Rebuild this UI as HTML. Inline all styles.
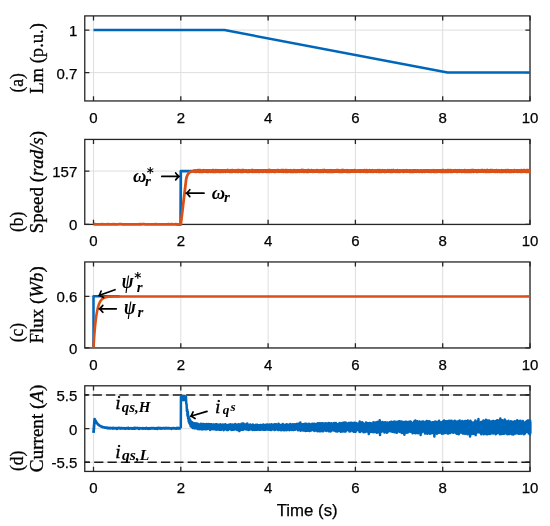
<!DOCTYPE html><html><head><meta charset="utf-8"><style>html,body{margin:0;padding:0;background:#fff;width:550px;height:526px;overflow:hidden}svg{display:block}</style></head><body>
<svg width="550" height="526" viewBox="0 0 550 526">
<rect width="550" height="526" fill="#fff"/>
<defs><clipPath id="cr"><rect x="0" y="0" width="531.6" height="526"/></clipPath></defs>
<path d="M93.5 15.9V100.95M180.8 15.9V100.95M268.1 15.9V100.95M355.4 15.9V100.95M442.7 15.9V100.95M530 15.9V100.95M84.77 72.6H530M84.77 30.08H530M93.5 139.43V224.43M180.8 139.43V224.43M268.1 139.43V224.43M355.4 139.43V224.43M442.7 139.43V224.43M530 139.43V224.43M84.77 224.43H530M84.77 171.05H530M93.5 261.96V347.96M180.8 261.96V347.96M268.1 261.96V347.96M355.4 261.96V347.96M442.7 261.96V347.96M530 261.96V347.96M84.77 347.96H530M84.77 296.36H530M93.5 385.8V471.43M180.8 385.8V471.43M268.1 385.8V471.43M355.4 385.8V471.43M442.7 385.8V471.43M530 385.8V471.43M84.77 462.26H530M84.77 428.62H530M84.77 394.97H530" stroke="#dedede" stroke-width="1" fill="none"/>
<rect x="84.77" y="15.9" width="445.23" height="85.05" fill="none" stroke="#262626" stroke-width="1.3"/>
<path d="M93.5 100.95v-4.6M93.5 15.9v4.6M180.8 100.95v-4.6M180.8 15.9v4.6M268.1 100.95v-4.6M268.1 15.9v4.6M355.4 100.95v-4.6M355.4 15.9v4.6M442.7 100.95v-4.6M442.7 15.9v4.6M530 100.95v-4.6M530 15.9v4.6M84.77 72.6h4.6M530 72.6h-4.6M84.77 30.08h4.6M530 30.08h-4.6" stroke="#262626" stroke-width="1.3" fill="none"/>
<rect x="84.77" y="139.43" width="445.23" height="85" fill="none" stroke="#262626" stroke-width="1.3"/>
<path d="M93.5 224.43v-4.6M93.5 139.43v4.6M180.8 224.43v-4.6M180.8 139.43v4.6M268.1 224.43v-4.6M268.1 139.43v4.6M355.4 224.43v-4.6M355.4 139.43v4.6M442.7 224.43v-4.6M442.7 139.43v4.6M530 224.43v-4.6M530 139.43v4.6M84.77 224.43h4.6M530 224.43h-4.6M84.77 171.05h4.6M530 171.05h-4.6" stroke="#262626" stroke-width="1.3" fill="none"/>
<rect x="84.77" y="261.96" width="445.23" height="86" fill="none" stroke="#262626" stroke-width="1.3"/>
<path d="M93.5 347.96v-4.6M93.5 261.96v4.6M180.8 347.96v-4.6M180.8 261.96v4.6M268.1 347.96v-4.6M268.1 261.96v4.6M355.4 347.96v-4.6M355.4 261.96v4.6M442.7 347.96v-4.6M442.7 261.96v4.6M530 347.96v-4.6M530 261.96v4.6M84.77 347.96h4.6M530 347.96h-4.6M84.77 296.36h4.6M530 296.36h-4.6" stroke="#262626" stroke-width="1.3" fill="none"/>
<rect x="84.77" y="385.8" width="445.23" height="85.63" fill="none" stroke="#262626" stroke-width="1.3"/>
<path d="M93.5 471.43v-4.6M93.5 385.8v4.6M180.8 471.43v-4.6M180.8 385.8v4.6M268.1 471.43v-4.6M268.1 385.8v4.6M355.4 471.43v-4.6M355.4 385.8v4.6M442.7 471.43v-4.6M442.7 385.8v4.6M530 471.43v-4.6M530 385.8v4.6M84.77 462.26h4.6M530 462.26h-4.6M84.77 428.62h4.6M530 428.62h-4.6M84.77 394.97h4.6M530 394.97h-4.6" stroke="#262626" stroke-width="1.3" fill="none"/>
<path d="M93.5 30.08L224.45 30.08L447.5 72.6L530 72.6" fill="none" stroke="#0066BA" stroke-width="2.5" stroke-linejoin="round" stroke-linecap="butt" />
<path d="M176.44 224.43L180.58 224.43L180.8 171.05L206.99 171.05" fill="none" stroke="#0066BA" stroke-width="2.7" stroke-linejoin="round" stroke-linecap="butt" /><path d="M93.5 224.43L94.94 224.25L96.39 224.43L97.83 224.41L99.27 224.43L100.71 224.43L102.16 224.23L103.6 224.43L105.04 224.43L106.48 224.43L107.93 224.13L109.37 224.43L110.81 224.43L112.25 224.43L113.7 224.16L115.14 224.29L116.58 224.43L118.03 224.3L119.47 224.22L120.91 224.15L122.35 224.42L123.8 224.43L125.24 224.43L126.68 224.33L128.12 224.43L129.57 224.43L131.01 224.41L132.45 224.43L133.89 224.43L135.34 224.4L136.78 224.43L138.22 224.29L139.67 224.2L141.11 224.43L142.55 224.16L143.99 224.18L145.44 224.4L146.88 224.43L148.32 224.43L149.76 224.43L151.21 224.43L152.65 224.43L154.09 224.43L155.53 224.2L156.98 224.43L158.42 224.43L159.86 224.43L161.31 224.43L162.75 224.43L164.19 224.43L165.63 224.43L167.08 224.43L168.52 224.2L169.96 224.32L171.4 224.12L172.85 224.43L174.29 224.43L175.73 224.24L177.17 224.28L178.62 224.43L178.62 224.43L178.75 224.43L178.87 224.43L179 224.43L179.13 224.43L179.26 224.43L179.39 224.43L179.52 224.43L179.64 224.43L179.77 224.43L179.9 224.43L180.03 224.43L180.16 224.43L180.29 224.43L180.41 224.43L180.54 224.43L180.67 224.31L180.8 223.95L180.93 223.23L181.06 222.27L181.19 221.19L181.31 220.11L181.44 219.03L181.57 217.95L181.7 216.87L181.83 215.79L181.96 214.71L182.08 213.63L182.21 212.55L182.34 211.47L182.47 210.39L182.6 209.31L182.73 208.23L182.85 207.15L182.98 206.07L183.11 204.99L183.24 203.91L183.37 202.83L183.5 201.75L183.62 200.67L183.75 199.59L183.88 198.51L184.01 197.43L184.14 196.35L184.27 195.27L184.39 194.19L184.52 193.11L184.65 192.03L184.78 190.95L184.91 189.87L185.04 188.79L185.17 187.71L185.29 186.63L185.42 185.55L185.55 184.47L185.68 183.39L185.81 182.31L185.94 181.23L186.06 180.18L186.19 179.24L186.32 178.47L186.45 177.88L186.58 177.42L186.71 177.02L186.83 176.64L186.96 176.29L187.09 175.95L187.22 175.64L187.35 175.35L187.48 175.08L187.6 174.83L187.73 174.59L187.86 174.36L187.99 174.15L188.12 173.96L188.25 173.77L188.37 173.6L188.5 173.44L188.63 173.29L188.76 173.15L188.89 173.01L189.02 172.89L189.14 172.77L189.27 172.66L189.4 172.56L189.53 172.47L189.66 172.38L189.79 172.29L189.92 172.21L190.04 172.14L190.17 172.07L190.3 172.01L190.43 171.95L190.56 171.89L190.69 171.84L190.81 171.79L190.94 171.74L191.07 171.7L191.2 171.66L191.33 171.62L191.46 171.58L191.58 171.55L191.71 171.52L191.84 171.49L191.97 171.46L192.1 171.43L192.23 171.41L192.35 171.39L192.48 171.37L192.61 171.35L192.74 171.33L192.87 171.31L193 171.29L193.12 171.28L193.25 171.26L193.38 171.25L193.51 171.24L193.64 171.22L193.77 171.21L193.89 171.2L193.89 170.53L194.23 171.65L194.56 170.8L194.9 171.54L195.23 170.49L195.56 171.8L195.9 170.59L196.23 171.79L196.56 170.56L196.9 171.49L197.23 170.57L197.56 171.63L197.9 170.23L198.23 171.47L198.56 170.68L198.9 171.71L199.23 170.2L199.56 171.89L199.9 170.34L200.23 171.43L200.56 170.28L200.9 171.77L201.23 170.64L201.56 171.65L201.9 170.69L202.23 171.83L202.56 170.32L202.9 171.83L203.23 170.3L203.56 171.54L203.9 170.28L204.23 171.53L204.56 170.64L204.9 171.6L205.23 170.44L205.56 171.55L205.9 170.38L206.23 171.72L206.56 170.58L206.9 171.73L207.23 170.52L207.56 171.79L207.9 170.55L208.23 171.82L208.56 170.48L208.9 171.69L209.23 170.34L209.56 171.67L209.9 170.57L210.23 171.92L210.56 170.66L210.9 171.57L211.23 170.41L211.56 171.41L211.9 170.63L212.23 171.82L212.56 170.28L212.9 171.74L213.23 170.22L213.56 171.8L213.9 170.55L214.23 171.74L214.56 170.52L214.9 171.8L215.23 170.5L215.56 171.47L215.9 170.23L216.23 171.77L216.56 170.3L216.9 171.69L217.23 170.28L217.56 171.63L217.9 170.4L218.23 171.42L218.56 170.41L218.9 171.83L219.23 170.33L219.56 171.83L219.9 170.44L220.23 171.87L220.56 170.65L220.9 171.87L221.23 170.51L221.56 171.44L221.9 170.37L222.23 171.64L222.56 170.48L222.9 171.85L223.23 170.64L223.56 171.73L223.9 170.48L224.23 171.68L224.56 170.44L224.9 171.46L225.23 170.43L225.56 171.86L225.9 170.62L226.23 171.4L226.56 170.67L226.9 171.64L227.23 170.18L227.56 171.41L227.9 170.17L228.23 171.68L228.56 170.64L228.9 171.62L229.23 170.6L229.56 171.78L229.9 170.42L230.23 171.55L230.56 170.57L230.9 171.86L231.23 170.29L231.56 171.63L231.9 170.49L232.23 171.79L232.56 170.18L232.9 171.43L233.23 170.62L233.56 171.59L233.9 170.43L234.23 171.43L234.56 170.68L234.9 171.51L235.23 170.5L235.56 171.79L235.9 170.38L236.23 171.41L236.56 170.69L236.9 171.64L237.23 170.23L237.56 171.89L237.9 170.51L238.23 171.87L238.56 170.2L238.9 171.61L239.23 170.3L239.56 171.59L239.9 170.63L240.23 171.7L240.56 170.66L240.9 171.75L241.23 170.27L241.56 171.89L241.9 170.47L242.23 171.45L242.56 170.22L242.9 171.86L243.23 170.18L243.56 171.71L243.9 170.34L244.23 171.59L244.56 170.61L244.9 171.55L245.23 170.32L245.56 171.57L245.9 170.33L246.23 171.66L246.56 170.47L246.9 171.92L247.23 170.62L247.56 171.66L247.9 170.62L248.23 171.9L248.56 170.44L248.9 171.57L249.23 170.62L249.56 171.71L249.9 170.49L250.23 171.46L250.56 170.69L250.9 171.6L251.23 170.39L251.56 171.67L251.9 170.22L252.23 171.89L252.56 170.2L252.9 171.83L253.23 170.45L253.56 171.67L253.9 170.49L254.23 171.61L254.56 170.69L254.9 171.82L255.23 170.58L255.56 171.41L255.9 170.46L256.23 171.78L256.56 170.47L256.9 171.59L257.23 170.35L257.56 171.48L257.9 170.7L258.23 171.71L258.56 170.42L258.9 171.86L259.23 170.48L259.56 171.82L259.9 170.7L260.23 171.4L260.56 170.38L260.9 171.51L261.23 170.67L261.56 171.46L261.9 170.51L262.23 171.57L262.56 170.4L262.9 171.87L263.23 170.51L263.56 171.49L263.9 170.4L264.23 171.39L264.56 170.5L264.9 171.56L265.23 170.5L265.56 171.42L265.9 170.41L266.23 171.73L266.56 170.3L266.9 171.91L267.23 170.52L267.56 171.75L267.9 170.47L268.23 171.51L268.56 170.23L268.9 171.8L269.23 170.2L269.56 171.84L269.9 170.21L270.23 171.46L270.56 170.7L270.9 171.5L271.23 170.49L271.56 171.76L271.9 170.47L272.23 171.67L272.56 170.3L272.9 171.43L273.23 170.34L273.56 171.42L273.9 170.57L274.23 171.78L274.56 170.34L274.9 171.61L275.23 170.55L275.56 171.84L275.9 170.56L276.23 171.41L276.56 170.58L276.9 171.4L277.23 170.27L277.56 171.46L277.9 170.18L278.23 171.51L278.56 170.54L278.9 171.71L279.23 170.54L279.56 171.6L279.9 170.65L280.23 171.6L280.56 170.7L280.9 171.51L281.23 170.22L281.56 171.54L281.9 170.56L282.23 171.76L282.56 170.23L282.9 171.55L283.23 170.51L283.56 171.78L283.9 170.28L284.23 171.72L284.56 170.61L284.9 171.49L285.23 170.3L285.56 171.77L285.9 170.22L286.23 171.81L286.56 170.48L286.9 171.46L287.23 170.23L287.56 171.77L287.9 170.4L288.23 171.76L288.56 170.5L288.9 171.58L289.23 170.4L289.56 171.65L289.9 170.32L290.23 171.9L290.56 170.25L290.9 171.6L291.23 170.51L291.56 171.89L291.9 170.5L292.23 171.83L292.56 170.66L292.9 171.64L293.23 170.43L293.56 171.83L293.9 170.23L294.23 171.47L294.56 170.37L294.89 171.73L295.23 170.63L295.56 171.84L295.89 170.41L296.23 171.91L296.56 170.61L296.89 171.68L297.23 170.53L297.56 171.74L297.89 170.38L298.23 171.67L298.56 170.53L298.89 171.66L299.23 170.51L299.56 171.87L299.89 170.46L300.23 171.65L300.56 170.57L300.89 171.53L301.23 170.19L301.56 171.56L301.89 170.24L302.23 171.71L302.56 170.18L302.89 171.48L303.23 170.2L303.56 171.81L303.89 170.4L304.23 171.78L304.56 170.32L304.89 171.63L305.23 170.36L305.56 171.51L305.89 170.7L306.23 171.76L306.56 170.45L306.89 171.88L307.23 170.57L307.56 171.83L307.89 170.17L308.23 171.88L308.56 170.19L308.89 171.48L309.23 170.62L309.56 171.51L309.89 170.51L310.23 171.45L310.56 170.63L310.89 171.4L311.23 170.2L311.56 171.59L311.89 170.37L312.23 171.64L312.56 170.31L312.89 171.83L313.23 170.5L313.56 171.68L313.89 170.66L314.23 171.55L314.56 170.59L314.89 171.56L315.23 170.53L315.56 171.7L315.89 170.53L316.23 171.57L316.56 170.26L316.89 171.4L317.23 170.71L317.56 171.42L317.89 170.24L318.23 171.73L318.56 170.31L318.89 171.91L319.23 170.59L319.56 171.89L319.89 170.58L320.23 171.67L320.56 170.34L320.89 171.82L321.23 170.58L321.56 171.65L321.89 170.69L322.23 171.55L322.56 170.18L322.89 171.88L323.23 170.39L323.56 171.82L323.89 170.22L324.23 171.57L324.56 170.18L324.89 171.63L325.23 170.62L325.56 171.68L325.89 170.39L326.23 171.77L326.56 170.35L326.89 171.41L327.23 170.36L327.56 171.89L327.89 170.35L328.23 171.92L328.56 170.43L328.89 171.83L329.23 170.63L329.56 171.88L329.89 170.47L330.23 171.87L330.56 170.54L330.89 171.73L331.23 170.25L331.56 171.78L331.89 170.37L332.23 171.92L332.56 170.66L332.89 171.45L333.23 170.41L333.56 171.91L333.89 170.34L334.23 171.56L334.56 170.65L334.89 171.63L335.23 170.45L335.56 171.64L335.89 170.37L336.23 171.54L336.56 170.23L336.89 171.55L337.23 170.65L337.56 171.58L337.89 170.2L338.23 171.48L338.56 170.56L338.89 171.89L339.23 170.52L339.56 171.85L339.89 170.69L340.23 171.87L340.56 170.58L340.89 171.49L341.23 170.31L341.56 171.93L341.89 170.19L342.23 171.8L342.56 170.21L342.89 171.93L343.23 170.41L343.56 171.47L343.89 170.25L344.23 171.61L344.56 170.54L344.89 171.66L345.23 170.69L345.56 171.4L345.89 170.57L346.23 171.71L346.56 170.3L346.89 171.91L347.23 170.26L347.56 171.9L347.89 170.36L348.23 171.79L348.56 170.39L348.89 171.43L349.23 170.68L349.56 171.8L349.89 170.6L350.23 171.82L350.56 170.46L350.89 171.39L351.23 170.4L351.56 171.63L351.89 170.67L352.23 171.53L352.56 170.54L352.89 171.58L353.23 170.33L353.56 171.48L353.89 170.47L354.23 171.72L354.56 170.2L354.89 171.45L355.23 170.67L355.56 171.49L355.89 170.59L356.23 171.48L356.56 170.67L356.89 171.5L357.23 170.59L357.56 171.65L357.89 170.36L358.23 171.59L358.56 170.62L358.89 171.44L359.23 170.57L359.56 171.48L359.89 170.45L360.23 171.86L360.56 170.32L360.89 171.5L361.23 170.69L361.56 171.43L361.89 170.47L362.23 171.59L362.56 170.34L362.89 171.44L363.23 170.57L363.56 171.76L363.89 170.4L364.23 171.67L364.56 170.22L364.89 171.45L365.23 170.6L365.56 171.7L365.89 170.4L366.23 171.92L366.56 170.18L366.89 171.71L367.23 170.3L367.56 171.77L367.89 170.64L368.23 171.72L368.56 170.54L368.89 171.59L369.23 170.62L369.56 171.39L369.89 170.25L370.23 171.78L370.56 170.3L370.89 171.55L371.23 170.48L371.56 171.49L371.89 170.38L372.23 171.85L372.56 170.29L372.89 171.9L373.23 170.57L373.56 171.77L373.89 170.64L374.23 171.68L374.56 170.65L374.89 171.68L375.23 170.42L375.56 171.58L375.89 170.52L376.23 171.78L376.56 170.45L376.89 171.61L377.23 170.65L377.56 171.54L377.89 170.25L378.23 171.92L378.56 170.51L378.89 171.86L379.23 170.23L379.56 171.51L379.89 170.56L380.23 171.77L380.56 170.54L380.89 171.91L381.23 170.51L381.56 171.79L381.89 170.33L382.23 171.51L382.56 170.24L382.89 171.57L383.23 170.65L383.56 171.42L383.89 170.46L384.23 171.73L384.56 170.56L384.89 171.85L385.23 170.56L385.56 171.85L385.89 170.69L386.23 171.53L386.56 170.62L386.89 171.63L387.23 170.52L387.56 171.6L387.89 170.25L388.23 171.71L388.56 170.38L388.89 171.6L389.23 170.27L389.56 171.66L389.89 170.3L390.23 171.89L390.56 170.38L390.89 171.63L391.23 170.57L391.56 171.89L391.89 170.29L392.23 171.82L392.56 170.59L392.89 171.63L393.23 170.23L393.56 171.52L393.89 170.27L394.23 171.68L394.56 170.59L394.89 171.59L395.23 170.67L395.56 171.76L395.89 170.31L396.23 171.41L396.56 170.55L396.89 171.81L397.23 170.6L397.56 171.68L397.89 170.27L398.23 171.7L398.56 170.64L398.89 171.88L399.23 170.3L399.56 171.7L399.89 170.53L400.23 171.71L400.56 170.5L400.89 171.45L401.23 170.64L401.56 171.41L401.89 170.62L402.23 171.52L402.56 170.36L402.89 171.71L403.23 170.39L403.56 171.84L403.89 170.66L404.23 171.6L404.56 170.67L404.89 171.62L405.23 170.67L405.56 171.43L405.89 170.65L406.23 171.6L406.56 170.29L406.89 171.54L407.23 170.31L407.56 171.52L407.89 170.55L408.23 171.65L408.56 170.67L408.89 171.63L409.23 170.39L409.56 171.84L409.89 170.68L410.23 171.83L410.56 170.4L410.89 171.7L411.23 170.68L411.56 171.87L411.89 170.56L412.23 171.69L412.56 170.42L412.89 171.89L413.23 170.38L413.56 171.93L413.89 170.58L414.23 171.75L414.56 170.4L414.89 171.67L415.23 170.37L415.56 171.69L415.89 170.53L416.23 171.74L416.56 170.66L416.89 171.65L417.23 170.46L417.56 171.51L417.89 170.4L418.23 171.75L418.56 170.64L418.89 171.55L419.23 170.68L419.56 171.71L419.89 170.67L420.23 171.51L420.56 170.47L420.89 171.64L421.23 170.69L421.56 171.91L421.89 170.58L422.23 171.72L422.56 170.59L422.89 171.71L423.23 170.52L423.56 171.56L423.89 170.45L424.23 171.71L424.56 170.38L424.89 171.76L425.23 170.56L425.56 171.44L425.89 170.57L426.23 171.57L426.56 170.38L426.89 171.62L427.23 170.54L427.56 171.44L427.89 170.39L428.23 171.45L428.56 170.43L428.89 171.76L429.23 170.37L429.56 171.48L429.89 170.52L430.23 171.9L430.56 170.66L430.89 171.76L431.23 170.47L431.56 171.72L431.89 170.5L432.23 171.46L432.56 170.4L432.89 171.39L433.23 170.24L433.56 171.82L433.89 170.51L434.23 171.68L434.56 170.42L434.89 171.92L435.23 170.69L435.56 171.55L435.89 170.49L436.23 171.82L436.56 170.31L436.89 171.62L437.23 170.7L437.56 171.74L437.89 170.49L438.23 171.45L438.56 170.37L438.89 171.63L439.23 170.54L439.56 171.54L439.89 170.43L440.23 171.52L440.56 170.5L440.89 171.9L441.23 170.45L441.56 171.53L441.89 170.43L442.23 171.89L442.56 170.24L442.89 171.76L443.23 170.22L443.56 171.8L443.89 170.34L444.23 171.62L444.56 170.63L444.89 171.79L445.23 170.36L445.56 171.92L445.89 170.54L446.23 171.87L446.56 170.59L446.89 171.9L447.23 170.17L447.56 171.42L447.89 170.53L448.23 171.93L448.56 170.18L448.89 171.75L449.23 170.64L449.56 171.39L449.89 170.57L450.23 171.9L450.56 170.27L450.89 171.62L451.23 170.3L451.56 171.88L451.89 170.55L452.23 171.87L452.56 170.56L452.89 171.57L453.23 170.69L453.56 171.48L453.89 170.41L454.23 171.4L454.56 170.41L454.89 171.48L455.23 170.3L455.56 171.46L455.89 170.6L456.23 171.54L456.56 170.39L456.89 171.83L457.23 170.3L457.56 171.79L457.89 170.34L458.23 171.69L458.56 170.52L458.89 171.49L459.23 170.24L459.56 171.61L459.89 170.36L460.23 171.43L460.56 170.51L460.89 171.44L461.23 170.52L461.56 171.79L461.89 170.52L462.23 171.76L462.56 170.64L462.89 171.6L463.23 170.49L463.56 171.67L463.89 170.59L464.23 171.77L464.56 170.23L464.89 171.83L465.23 170.69L465.56 171.66L465.89 170.52L466.23 171.7L466.56 170.66L466.89 171.79L467.23 170.48L467.56 171.9L467.89 170.7L468.23 171.62L468.56 170.45L468.89 171.84L469.23 170.3L469.56 171.49L469.89 170.54L470.23 171.79L470.56 170.48L470.89 171.53L471.23 170.2L471.56 171.85L471.89 170.52L472.23 171.69L472.56 170.2L472.89 171.51L473.23 170.22L473.56 171.87L473.89 170.31L474.23 171.76L474.56 170.34L474.89 171.69L475.23 170.39L475.56 171.5L475.89 170.4L476.23 171.76L476.56 170.45L476.89 171.76L477.23 170.46L477.56 171.83L477.89 170.32L478.23 171.44L478.56 170.29L478.89 171.54L479.23 170.67L479.56 171.46L479.89 170.53L480.23 171.68L480.56 170.53L480.89 171.5L481.23 170.29L481.56 171.59L481.89 170.23L482.23 171.52L482.56 170.33L482.89 171.58L483.23 170.25L483.56 171.74L483.89 170.34L484.23 171.44L484.56 170.3L484.89 171.58L485.23 170.31L485.56 171.85L485.89 170.64L486.23 171.4L486.56 170.3L486.89 171.92L487.23 170.22L487.56 171.63L487.89 170.26L488.23 171.4L488.56 170.68L488.89 171.71L489.23 170.42L489.56 171.84L489.89 170.58L490.23 171.64L490.56 170.17L490.89 171.55L491.23 170.49L491.56 171.72L491.89 170.17L492.23 171.49L492.56 170.33L492.89 171.62L493.23 170.49L493.56 171.53L493.89 170.46L494.23 171.7L494.56 170.5L494.89 171.67L495.23 170.36L495.56 171.85L495.89 170.4L496.23 171.6L496.56 170.19L496.89 171.48L497.23 170.69L497.56 171.88L497.89 170.57L498.23 171.47L498.56 170.5L498.89 171.58L499.23 170.52L499.56 171.85L499.89 170.55L500.23 171.46L500.56 170.59L500.89 171.91L501.23 170.48L501.56 171.59L501.89 170.29L502.23 171.9L502.56 170.43L502.89 171.83L503.23 170.57L503.56 171.58L503.89 170.4L504.23 171.52L504.56 170.56L504.89 171.49L505.23 170.57L505.56 171.85L505.89 170.28L506.23 171.45L506.56 170.52L506.89 171.78L507.23 170.24L507.56 171.69L507.89 170.31L508.23 171.52L508.56 170.28L508.89 171.84L509.23 170.49L509.56 171.52L509.89 170.69L510.23 171.73L510.56 170.37L510.89 171.39L511.23 170.43L511.56 171.9L511.89 170.69L512.23 171.46L512.56 170.68L512.89 171.63L513.23 170.5L513.56 171.86L513.89 170.67L514.23 171.5L514.56 170.2L514.89 171.4L515.23 170.57L515.56 171.6L515.89 170.71L516.23 171.55L516.56 170.38L516.89 171.72L517.23 170.38L517.56 171.74L517.89 170.38L518.23 171.41L518.56 170.35L518.89 171.71L519.23 170.59L519.56 171.62L519.89 170.58L520.23 171.86L520.56 170.56L520.89 171.48L521.23 170.28L521.56 171.8L521.89 170.25L522.23 171.76L522.56 170.48L522.89 171.65L523.23 170.41L523.56 171.71L523.89 170.2L524.23 171.53L524.56 170.29L524.89 171.4L525.23 170.61L525.56 171.9L525.89 170.57L526.23 171.67L526.56 170.21L526.89 171.75L527.23 170.44L527.56 171.77L527.9 170.18L528.23 171.9L528.56 170.61L528.9 171.47L529.23 170.55L529.56 171.47L529.9 170.29" fill="none" stroke="#DA5016" stroke-width="2.8" stroke-linejoin="round" stroke-linecap="butt" />
<path d="M93.5 347.96L93.5 296.36L119.69 296.36" fill="none" stroke="#0066BA" stroke-width="2.5" stroke-linejoin="round" stroke-linecap="butt" /><path d="M93.5 347.96L93.68 344.91L93.85 342.05L94.03 339.35L94.2 336.82L94.38 334.43L94.55 332.19L94.73 330.08L94.91 328.09L95.08 326.22L95.26 324.46L95.43 322.81L95.61 321.25L95.79 319.79L95.96 318.41L96.14 317.11L96.31 315.89L96.49 314.75L96.66 313.67L96.84 312.65L97.02 311.7L97.19 310.8L97.37 309.95L97.54 309.16L97.72 308.41L97.89 307.7L98.07 307.04L98.25 306.42L98.42 305.83L98.6 305.28L98.77 304.76L98.95 304.27L99.12 303.81L99.3 303.38L99.48 302.97L99.65 302.59L99.83 302.23L100 301.89L100.18 301.57L100.36 301.27L100.53 300.99L100.71 300.73L100.88 300.48L101.06 300.24L101.23 300.02L101.41 299.81L101.59 299.62L101.76 299.43L101.94 299.26L102.11 299.1L102.29 298.95L102.46 298.8L102.64 298.67L102.82 298.54L102.99 298.42L103.17 298.3L103.34 298.2L103.52 298.1L103.69 298L103.87 297.92L104.05 297.83L104.22 297.75L104.4 297.68L104.57 297.61L104.75 297.55L104.93 297.49L105.1 297.43L105.28 297.37L105.45 297.32L105.63 297.27L105.8 297.23L105.98 297.19L106.16 297.15L106.33 297.11L106.51 297.07L106.68 297.04L106.86 297.01L107.03 296.98L107.21 296.95L107.39 296.93L107.56 296.9L107.74 296.88L107.91 296.86L108.09 296.84L108.26 296.82L108.44 296.8L108.62 296.78L108.79 296.76L108.97 296.75L109.14 296.74L109.32 296.72L109.5 296.71L109.67 296.7L109.85 296.69L110.02 296.68L110.2 296.67L110.37 296.66L110.55 296.65L110.73 296.64L110.9 296.63L111.08 296.63L111.25 296.62L111.43 296.61L111.6 296.61L111.78 296.6L111.96 296.59L112.13 296.59L112.31 296.59L112.48 296.58L112.66 296.58L112.83 296.57L113.01 296.57L113.19 296.57L113.36 296.56L113.54 296.56L113.71 296.56L113.89 296.55L114.07 296.55L114.24 296.55L114.42 296.55L114.59 296.54L114.77 296.54L114.94 296.54L115.12 296.54L115.3 296.54L115.47 296.54L115.65 296.53L115.82 296.53L116 296.53L116.17 296.53L116.35 296.53L116.53 296.53L116.7 296.53L116.88 296.53L117.05 296.52L117.23 296.52L117.4 296.52L117.58 296.52L117.76 296.52L117.93 296.52L118.11 296.52L118.28 296.52L118.46 296.52L118.64 296.52L118.81 296.52L118.99 296.52L119.16 296.52L119.34 296.52L119.51 296.52L119.69 296.52L119.69 296.52L130.21 296.51L140.73 296.51L151.25 296.51L161.77 296.51L172.29 296.51L182.81 296.51L193.34 296.51L203.86 296.51L214.38 296.51L224.9 296.51L235.42 296.51L245.94 296.51L256.46 296.51L266.98 296.51L277.5 296.51L288.02 296.51L298.54 296.51L309.06 296.51L319.58 296.51L330.11 296.51L340.63 296.51L351.15 296.51L361.67 296.51L372.19 296.51L382.71 296.51L393.23 296.51L403.75 296.51L414.27 296.51L424.79 296.51L435.31 296.51L445.83 296.51L456.35 296.51L466.88 296.51L477.4 296.51L487.92 296.51L498.44 296.51L508.96 296.51L519.48 296.51L530 296.51" fill="none" stroke="#DA5016" stroke-width="2.6" stroke-linejoin="round" stroke-linecap="butt" />
<path d="M84.77 394.97H530" stroke="#1a1a1a" stroke-width="1.5" stroke-dasharray="9.2 4.15" stroke-dashoffset="5.42" fill="none"/>
<path d="M84.77 462.26H530" stroke="#1a1a1a" stroke-width="1.5" stroke-dasharray="9.2 4.15" stroke-dashoffset="3.92" fill="none"/>
<g clip-path="url(#cr)">
<path d="M93.5 432.9L93.85 428.66L94.29 423.37L94.63 419.13L94.98 419.88L95.46 420.8L95.85 421.47L96.24 422.08L96.63 422.64L97.02 423.15L97.41 423.61L97.8 424.03L98.18 424.41L98.57 424.76L98.96 425.08L99.35 425.37L99.74 425.63L100.13 425.87L100.52 426.09L100.91 426.29L101.29 426.47L101.68 426.63L102.07 426.78L102.46 426.92L102.85 427.04L103.24 427.16L103.63 427.26L104.01 427.35L104.4 427.44L104.79 427.52L105.18 427.59L105.57 427.65L105.96 427.71L106.35 427.76L106.74 427.64L107.12 427.8L107.51 428.08L107.9 428.01L108.29 428.09L108.68 427.97L109.07 428.24L109.46 428.08L109.84 427.95L110.23 428.09L110.62 428.28L111.01 428.25L111.4 428.13L111.79 428.07L112.18 428.02L112.57 428.21L112.95 428.44L113.34 427.95L113.73 428.16L114.12 428.15L114.51 428.18L114.9 428.43L115.29 428.3L115.67 428.2L116.06 428.07L116.45 428.25L116.84 428.84L117.23 428.31L117.62 428.21L118.01 428.04L118.4 428.15L118.78 427.83L119.17 428.02L119.56 428.04L119.95 428.12L120.34 428.54L120.73 428.14L121.12 428.18L121.5 428.39L121.89 428.19L122.28 428.22L122.67 428.38L123.06 428.32L123.45 428.35L123.84 428.26L124.23 428.38L124.61 428.2L125 428.65L125.39 428.36L125.78 428.61L126.17 428.39L126.56 428.21L126.95 428.3L127.33 428.33L127.72 428.29L128.11 428.02L128.5 428.51L128.89 428.14L129.28 428.58L129.67 428.39L130.06 428.28L130.44 428.46L130.83 428.27L131.22 428.17L131.61 428.53L132 428.32L132.39 428.38L132.78 428.66L133.16 428.34L133.55 428.45L133.94 428.06L134.33 428.47L134.72 428L135.11 428.41L135.5 427.95L135.89 428.21L136.27 428.23L136.66 428.16L137.05 428.14L137.44 428.05L137.83 427.99L138.22 428.37L138.61 428.54L138.99 428.8L139.38 428.38L139.77 428.17L140.16 428.24L140.55 428.29L140.94 428.37L141.33 428.43L141.72 428.36L142.1 428.24L142.49 428.63L142.88 428.18L143.27 428.58L143.66 428.34L144.05 428.43L144.44 428.38L144.82 428.5L145.21 428.52L145.6 428.35L145.99 428.51L146.38 427.86L146.77 428.39L147.16 428.43L147.55 428.41L147.93 428.51L148.32 428.76L148.71 428.36L149.1 428.25L149.49 428.59L149.88 428.31L150.27 428.53L150.65 428.32L151.04 428.24L151.43 428.22L151.82 428.23L152.21 428.44L152.6 428.15L152.99 428.39L153.38 428.25L153.76 428.18L154.15 428.37L154.54 428.55L154.93 428.2L155.32 428.52L155.71 428.47L156.1 428.51L156.48 428.16L156.87 428.34L157.26 428.72L157.65 428.18L158.04 427.93L158.43 427.98L158.82 428.42L159.21 428.3L159.59 428.22L159.98 428.15L160.37 428.3L160.76 428.51L161.15 428.17L161.54 428.2L161.93 428.56L162.31 428.38L162.7 428.26L163.09 428.31L163.48 428.21L163.87 428.17L164.26 428.21L164.65 428.33L165.04 428.56L165.42 428.2L165.81 428.05L166.2 427.95L166.59 428.32L166.98 428.32L167.37 428.05L167.76 428.05L168.14 428.25L168.53 428.18L168.92 428.45L169.31 428.2L169.7 428.46L170.09 428.34L170.48 428.33L170.87 428.4L171.25 428.7L171.64 428.46L172.03 428.25L172.42 428.32L172.81 428.38L173.2 428.23L173.59 428.19L173.97 428.16L174.36 428.46L174.75 428.31L175.14 428.37L175.53 428.47L175.92 428.59L176.31 428.33L176.7 428.47L177.08 427.92L177.47 428.33L177.86 428.35L178.25 428.39L178.64 427.97L179.03 428.49L179.42 428.34L179.8 428.45L180.19 428.34L180.58 428.32L180.8 428.31" fill="none" stroke="#0066BA" stroke-width="2.8" stroke-linejoin="round" stroke-linecap="butt" stroke-linecap="round"/>
<path d="M180.8 428.31L180.96 396.31L181.27 399.41L181.58 396.58L181.89 399.69L182.21 396.14L182.52 399.31L182.83 395.82L183.14 400.13L183.46 396.1L183.77 400.02L184.08 396.64L184.39 399.73L184.71 396.01L185.02 400.28L185.33 396.14L185.64 399.39L185.96 396.65L186.27 403.78L186.58 404.02L186.89 411L187.21 409.11L187.52 415.59L187.83 411.87L188.14 418.73L188.46 416.3L188.77 421.8L189.08 418.08L189.39 423.2L189.71 419.13L190.02 424.25L190.33 420.49L190.64 426.18L190.96 421.54L191.27 426.43L191.58 422.57L191.89 427.19L192.21 422.2L192.52 427.17L192.83 423.24L193.14 428.07L193.46 423.26L193.77 427.66L194.08 423.73L194.39 427.69L194.71 423.18L195.02 428.43L195.33 424.24L195.64 428.18L195.96 423.52L196.27 427.96L196.58 423.53L196.89 427.97L197.21 424.59L197.52 428.99L197.83 424.1L198.14 428.96L198.46 424.05L198.77 428.68L199.08 424.65L199.39 429.22L199.71 424.75L200.02 428.51L200.33 424.39L200.64 428.79L200.96 423.85L201.27 429.23L201.58 424.91L201.89 428.3L202.21 424.28L202.52 429.42L202.83 423.99L203.14 429.08L203.46 424.03L203.77 428.31L204.08 424.29L204.39 428.48L204.71 424.36L205.02 429.19L205.33 424.34L205.64 428.94L205.96 424.25L206.27 429.31L206.58 424.05L206.89 428.46L207.21 424.76L207.52 429.03L207.83 424.22L208.14 428.69L208.46 424.02L208.77 428.55L209.08 424.49L209.39 428.71L209.71 424.26L210.02 430.02L210.33 424.73L210.64 429.33L210.96 424.21L211.27 429.28L211.58 424.25L211.89 429.36L212.21 424.69L212.52 428.73L212.83 424.99L213.14 428.53L213.46 424.58L213.77 429.27L214.08 424.54L214.39 429.32L214.71 425.2L215.02 428.63L215.33 424.95L215.64 429.16L215.96 424.27L216.27 429.65L216.58 424.21L216.89 429.19L217.21 424.89L217.52 429.46L217.83 424.75L218.14 429.4L218.46 424.79L218.77 429.19L219.08 425.17L219.39 429.67L219.71 425.22L220.02 428.79L220.33 424.3L220.64 429.7L220.96 425.46L221.27 429.83L221.58 424.97L221.89 428.8L222.21 424.66L222.52 428.66L222.83 424.44L223.14 428.76L223.46 425.41L223.77 430.26L224.08 425L224.39 429.36L224.71 425.26L225.02 429.36L225.33 424.28L225.64 428.91L225.96 424.79L226.27 429.32L226.58 425.17L226.89 429.98L227.21 425.3L227.52 429.27L227.83 424.94L228.14 429.89L228.46 424.66L228.77 428.95L229.08 424.98L229.39 428.76L229.71 425.45L230.02 429.2L230.33 424.32L230.64 429.26L230.96 424.66L231.27 429.67L231.58 425.35L231.89 429.93L232.21 424.55L232.52 429.78L232.83 424.86L233.14 429.57L233.46 425.51L233.77 429.81L234.08 425.18L234.39 428.92L234.71 424.3L235.02 429.17L235.33 424.07L235.64 428.94L235.96 424.67L236.27 429.42L236.58 424.88L236.89 429.38L237.21 424.95L237.52 430.06L237.83 424.93L238.14 429.64L238.46 424.33L238.77 429.35L239.08 425.34L239.39 431.1L239.71 424.44L240.02 429.76L240.33 425.27L240.64 429.93L240.96 425.06L241.27 429.52L241.58 423.66L241.89 429.87L242.21 423.7L242.52 429.34L242.83 425.36L243.14 429.85L243.46 423.51L243.77 429.09L244.08 425.4L244.39 429L244.71 424.85L245.02 429.08L245.33 424.43L245.64 428.82L245.96 424.49L246.27 429.41L246.58 424.54L246.89 429.49L247.21 423.39L247.52 429.48L247.83 425.11L248.14 429.24L248.46 425.06L248.77 429.88L249.08 425.07L249.39 429.87L249.71 424.84L250.02 429.39L250.33 424.57L250.64 428.96L250.96 425.31L251.27 429.2L251.58 425.2L251.89 429.31L252.21 424.92L252.52 430.03L252.83 424.39L253.14 429.73L253.46 425.5L253.77 429L254.08 425.24L254.39 429.8L254.71 425.44L255.02 430.04L255.33 425.29L255.64 428.91L255.96 424.87L256.27 429.87L256.58 424.92L256.89 429.85L257.21 424.68L257.52 429.83L257.83 424.91L258.14 429.36L258.46 425.45L258.77 429.55L259.08 425.13L259.39 429.75L259.71 425.19L260.02 429.85L260.33 424.94L260.64 429.7L260.96 425.07L261.27 428.86L261.58 425.35L261.89 429.5L262.21 424.93L262.52 428.93L262.83 424.84L263.14 429.58L263.46 424.5L263.77 429.81L264.08 425.18L264.39 429.63L264.71 425.35L265.02 429.71L265.33 425.57L265.64 429.72L265.96 424.7L266.27 429.2L266.58 424.89L266.89 429.6L267.21 424.42L267.52 429.38L267.83 425.26L268.14 429.7L268.46 425.1L268.77 429.57L269.08 425.38L269.39 429.75L269.71 424.58L270.02 429.74L270.33 424.64L270.64 429.21L270.96 424.85L271.27 430.12L271.58 424.35L271.89 429.74L272.21 425.5L272.52 429.18L272.83 425L273.14 428.92L273.46 424.75L273.77 429.43L274.08 425.57L274.39 429.96L274.71 424.25L275.02 429.95L275.33 424.65L275.64 429.1L275.96 424.35L276.27 429.15L276.58 425.41L276.89 429.44L277.21 424.94L277.52 429.45L277.83 424.94L278.14 429.92L278.46 423.73L278.77 430.07L279.08 424.93L279.39 429.12L279.71 424.7L280.02 429.09L280.33 425.49L280.64 429.73L280.96 425.27L281.27 430.31L281.58 424.88L281.89 429.83L282.21 424.44L282.52 429.55L282.83 424.1L283.14 429.82L283.46 424.73L283.77 430.18L284.08 425.31L284.39 430.15L284.71 424.99L285.02 429.1L285.33 425.4L285.64 429.98L285.96 424.64L286.27 429.81L286.58 424.31L286.89 430.14L287.21 425.05L287.52 429.38L287.83 424.7L288.14 429.57L288.46 425.1L288.77 429.13L289.08 425.33L289.39 430.24L289.71 424.23L290.02 429.4L290.33 423.94L290.64 429.24L290.96 424.58L291.27 430L291.58 425.15L291.89 429.86L292.21 424.93L292.52 429.8L292.83 424.35L293.14 429.95L293.46 425.19L293.77 430.05L294.08 425.36L294.39 429.84L294.71 424.23L295.02 429.81L295.33 424.46L295.64 429.25L295.96 424.72L296.27 429.34L296.58 424.04L296.89 429.31L297.21 424.12L297.52 429.43L297.83 423.99L298.14 430.33L298.46 423.73L298.77 429.79L299.08 423.79L299.39 430.12L299.71 424.14L300.02 429.99L300.33 422.49L300.64 430.74L300.96 425.02L301.27 429.48L301.58 424.68L301.89 429.82L302.21 424.16L302.52 430.14L302.83 424.98L303.14 430.54L303.46 424.3L303.77 430.4L304.08 423.9L304.39 429.55L304.71 424.6L305.02 430.68L305.33 423.74L305.64 430.96L305.96 424.91L306.27 429.84L306.58 423.64L306.89 430.79L307.21 425.1L307.52 430.65L307.83 424.7L308.14 430.15L308.46 425.16L308.77 430.37L309.08 423.65L309.39 431.02L309.71 424.46L310.02 430.89L310.33 424.6L310.64 429.41L310.96 424.37L311.27 430.48L311.58 423.93L311.89 429.9L312.21 424.22L312.52 429.41L312.83 423.66L313.14 430.07L313.46 424.23L313.77 429.54L314.08 424.15L314.39 431.03L314.71 423.75L315.02 430.4L315.33 424.62L315.64 429.69L315.96 424.3L316.27 430.48L316.58 424.31L316.89 430.55L317.21 423.75L317.52 431.19L317.83 423.34L318.14 430.65L318.46 423.91L318.77 430.74L319.08 423.26L319.39 431.29L319.71 424.18L320.02 429.96L320.33 423.84L320.64 431.17L320.96 423.28L321.27 430.62L321.58 424.88L321.89 431.02L322.21 423.32L322.52 430.2L322.83 424.05L323.14 431.36L323.46 423.57L323.77 430.05L324.08 424.13L324.39 430.37L324.71 424.44L325.02 430.31L325.33 423.17L325.64 430.27L325.96 424.18L326.27 430.99L326.58 423.5L326.89 429.77L327.21 424.91L327.52 430.14L327.83 424.85L328.14 430.43L328.46 423.08L328.77 431.32L329.08 423.57L329.39 430.9L329.71 423.24L330.02 429.78L330.33 424.71L330.64 431.43L330.96 424.59L331.27 430.66L331.58 423.35L331.89 430.54L332.21 423.85L332.52 429.65L332.83 424.72L333.14 430.24L333.46 424.73L333.77 430.43L334.08 423L334.39 430.33L334.71 423.9L335.02 430.68L335.33 424.64L335.64 431.24L335.96 422.91L336.27 430.49L336.58 423.92L336.89 429.93L337.21 424.68L337.52 431.6L337.83 424.23L338.14 430.89L338.46 424.07L338.77 429.86L339.08 423.94L339.39 430.67L339.71 422.99L340.02 430.95L340.33 423.44L340.64 431.67L340.96 424.46L341.27 430.94L341.58 423.35L341.89 430.73L342.21 422.95L342.52 431.39L342.83 424.29L343.14 431.03L343.46 422.8L343.77 430.45L344.08 423.61L344.39 431.53L344.71 422.41L345.02 431.46L345.33 423.42L345.64 431.55L345.96 422.79L346.27 430.17L346.58 424.6L346.89 430.25L347.21 424.4L347.52 429.93L347.83 424.32L348.14 429.95L348.46 423.07L348.77 430.09L349.08 423.91L349.39 431.42L349.71 422.93L350.02 430.38L350.33 422.89L350.64 431.22L350.96 423.19L351.27 430.36L351.58 422.85L351.89 430.18L352.21 423.52L352.52 430.11L352.83 423.84L353.14 431.12L353.46 423.08L353.77 431.74L354.08 423.34L354.39 431.76L354.71 422.68L355.02 431.23L355.33 423.9L355.64 431.69L355.96 423.07L356.27 430.74L356.58 423.65L356.89 430.08L357.21 423.73L357.52 429.98L357.83 424.48L358.14 430.01L358.46 423.5L358.77 430.13L359.08 423.98L359.39 431.58L359.71 421.52L360.02 431.93L360.33 422.61L360.64 430.09L360.96 423.27L361.27 430.59L361.58 424.49L361.89 430.82L362.21 422.16L362.52 431.56L362.83 422.88L363.14 430.85L363.46 423.38L363.77 432.18L364.08 424.3L364.39 431.4L364.71 424.15L365.02 431.97L365.33 424.2L365.64 430.67L365.96 422.57L366.27 431.35L366.58 422.72L366.89 431.51L367.21 424.06L367.52 431.24L367.83 423.13L368.14 430.49L368.46 423.28L368.77 433.9L369.08 423.88L369.39 432.16L369.71 422.92L370.02 430.54L370.33 423.75L370.64 431.89L370.96 423.13L371.27 431.02L371.58 423.59L371.89 430.3L372.21 424.15L372.52 431.7L372.83 423.52L373.14 432.23L373.46 422.29L373.77 430.78L374.08 422.81L374.39 430.3L374.71 424.17L375.02 432.11L375.33 422.47L375.64 431.74L375.96 422.67L376.27 430.23L376.58 423.98L376.89 432.73L377.21 422.1L377.52 432.49L377.83 422.1L378.14 432.09L378.46 424.05L378.77 431.7L379.08 421.9L379.39 431.01L379.71 420.3L380.02 434.89L380.33 422.7L380.64 432.26L380.96 423.36L381.27 431.18L381.58 423.36L381.89 431.39L382.21 422.1L382.52 430.54L382.83 422.32L383.14 431.23L383.46 422.9L383.77 431.53L384.08 422.56L384.39 432.45L384.71 424.12L385.02 431.31L385.33 422.23L385.64 430.72L385.96 422.9L386.27 432.07L386.58 423.59L386.89 432.82L387.21 422.6L387.52 432.19L387.83 424.14L388.14 431.18L388.46 423.09L388.77 431.24L389.08 423.76L389.39 430.93L389.71 422.26L390.02 430.49L390.33 421.99L390.64 430.38L390.96 423.75L391.27 431.38L391.58 421.85L391.89 430.66L392.21 421.9L392.52 431.68L392.83 422.43L393.14 431.04L393.46 422.04L393.77 432.08L394.08 423.99L394.39 432.01L394.71 421.57L395.02 432.37L395.33 422.63L395.64 431.39L395.96 422.8L396.27 431.13L396.58 422.66L396.89 432.83L397.21 421.82L397.52 430.99L397.83 423.61L398.14 430.72L398.46 421.81L398.77 430.61L399.08 421.16L399.39 431.66L399.71 421.34L400.02 432.05L400.33 421.74L400.64 431.53L400.96 421.96L401.27 431.24L401.58 421.53L401.89 433.05L402.21 422.16L402.52 431.43L402.83 424.03L403.14 431.84L403.46 421.98L403.77 432.66L404.08 423.01L404.39 434.81L404.71 422.72L405.02 430.62L405.33 421.76L405.64 432.62L405.96 422.12L406.27 432.28L406.58 421.85L406.89 432.83L407.21 423.27L407.52 432.46L407.83 422.75L408.14 432.33L408.46 422.01L408.77 431.22L409.08 421.8L409.39 431.46L409.71 422.36L410.02 430.64L410.33 421.56L410.64 431.75L410.96 421.63L411.27 431.26L411.58 423.5L411.89 430.83L412.21 423.27L412.52 433.3L412.83 423.62L413.14 432.55L413.46 422.67L413.77 432.71L414.08 421.62L414.39 431.17L414.71 422.27L415.02 433.12L415.33 420.49L415.64 433.27L415.96 423.37L416.27 432.65L416.58 422.01L416.89 431.18L417.21 421.13L417.52 432.07L417.83 422.31L418.14 433.14L418.46 422.06L418.77 431.38L419.08 423.27L419.39 431.67L419.71 421.51L420.02 432.43L420.33 422.55L420.64 435.01L420.96 422.38L421.27 431.09L421.58 421.93L421.89 432.16L422.21 421.4L422.52 431.82L422.83 422.42L423.14 431.43L423.46 421.57L423.77 431.22L424.08 423.23L424.39 431.64L424.71 423.56L425.02 433.47L425.33 422.34L425.64 433.3L425.96 423.57L426.27 432.85L426.58 420.89L426.89 432.46L427.21 423.49L427.52 433.69L427.83 421.49L428.14 431.97L428.46 423.36L428.77 431.8L429.08 421.32L429.39 431.96L429.71 421.39L430.02 433.63L430.33 422.26L430.64 432.62L430.96 423.57L431.27 433.2L431.58 422.76L431.89 432.55L432.21 423.5L432.52 431.54L432.83 422.35L433.14 433.09L433.46 422.18L433.77 433.35L434.08 423.26L434.39 436.41L434.71 421.79L435.02 432.07L435.33 421.84L435.64 430.99L435.96 421.71L436.27 430.97L436.58 423.23L436.89 433.65L437.21 422.53L437.52 433.19L437.83 423.22L438.14 431.61L438.46 421.54L438.77 432.85L439.08 420.67L439.39 431.38L439.71 422.08L440.02 432.61L440.33 422.71L440.64 431.03L440.96 423.08L441.27 431.05L441.58 422.37L441.89 433.79L442.21 421.9L442.52 431.59L442.83 422.29L443.14 433.61L443.46 420.9L443.77 431.57L444.08 420.58L444.39 431.21L444.71 422.69L445.02 433.04L445.33 421.53L445.64 432.42L445.96 421.13L446.27 431.22L446.58 422.35L446.89 432.23L447.21 421.14L447.52 433.39L447.83 421.77L448.14 433.62L448.46 420.98L448.77 432.79L449.08 420.79L449.39 432.41L449.71 421.18L450.02 432.88L450.33 421.09L450.64 432.82L450.96 422.28L451.27 431.38L451.58 420.78L451.89 431.53L452.21 421.43L452.52 431.24L452.83 422.64L453.14 432.64L453.46 421.84L453.77 431.87L454.08 422.14L454.39 431.93L454.71 420.84L455.02 431.75L455.33 422.61L455.64 433.07L455.96 421.51L456.27 431.14L456.58 422.69L456.89 433.77L457.21 422.97L457.52 431.12L457.83 421.62L458.14 432.81L458.46 421.46L458.77 434.19L459.08 423L459.39 432.98L459.71 420.55L460.02 431.1L460.33 422.24L460.64 432.51L460.96 422.45L461.27 432.17L461.58 422.51L461.89 431.71L462.21 421.02L462.52 433.25L462.83 422.77L463.14 433.61L463.46 422.44L463.77 431.84L464.08 421.6L464.39 432.75L464.71 422.46L465.02 433.7L465.33 420.91L465.64 431.63L465.96 423.05L466.27 433.5L466.58 423.02L466.89 433.29L467.21 420.88L467.52 434.15L467.83 420.45L468.14 432.61L468.46 422.03L468.77 433.3L469.08 422.34L469.39 432.05L469.71 421.91L470.02 436.5L470.33 420.75L470.64 431.14L470.96 421.62L471.27 432.44L471.58 422.15L471.89 433.89L472.21 422.95L472.52 433.09L472.83 423.25L473.14 431.86L473.46 422.59L473.77 433.64L474.08 423.16L474.39 432.35L474.71 423.28L475.02 431.51L475.33 420.44L475.64 435.1L475.96 422.9L476.27 432.59L476.58 422.14L476.89 431.48L477.21 422.01L477.52 432.16L477.83 420.93L478.14 432.37L478.46 419.06L478.77 431.52L479.08 423.26L479.39 432.56L479.71 422.47L480.02 432.54L480.33 423.13L480.64 431.65L480.96 421.91L481.27 434.24L481.58 422.66L481.89 432.8L482.21 421.8L482.52 431.28L482.83 421.5L483.14 432.56L483.46 420.38L483.77 434.21L484.08 421.85L484.39 432.42L484.71 423.33L485.02 432.04L485.33 422.03L485.64 433.58L485.96 419.85L486.27 434.11L486.58 420.87L486.89 434.24L487.21 420.62L487.52 434.15L487.83 421.65L488.14 431.92L488.46 422.92L488.77 433.77L489.08 420.6L489.39 433.2L489.71 421.37L490.02 433.94L490.33 422.94L490.64 432.09L490.96 422.94L491.27 433.25L491.58 421.51L491.89 432.83L492.21 422.73L492.52 432.41L492.83 421.02L493.14 433.57L493.46 421.07L493.77 433L494.08 423.13L494.39 431.61L494.71 421.66L495.02 432.51L495.33 422.58L495.64 434.2L495.96 421.08L496.27 433.83L496.58 421.77L496.89 432.34L497.21 420.2L497.52 431.27L497.83 423.28L498.14 433.03L498.46 420.39L498.77 431.94L499.08 423.34L499.39 431.72L499.71 421L500.02 434.34L500.33 418.48L500.64 433.08L500.96 421.35L501.27 434.05L501.58 420.33L501.89 433.85L502.21 420.32L502.52 432.76L502.83 422.9L503.14 431.77L503.46 423.07L503.77 433.86L504.08 422.18L504.39 431.74L504.71 419.52L505.02 432.02L505.33 420.4L505.64 433.17L505.96 421.18L506.27 431.85L506.58 422.84L506.89 433.77L507.21 422.09L507.52 434.32L507.83 421.45L508.14 431.79L508.46 420.81L508.77 433.01L509.08 423.27L509.39 433.99L509.71 421.93L510.02 433.38L510.33 421.72L510.64 432.74L510.96 421.29L511.27 433.08L511.58 421.8L511.89 434.14L512.21 422.34L512.52 431.58L512.83 421.65L513.14 434.39L513.46 423.18L513.77 434.12L514.08 422.35L514.39 433.3L514.71 421.17L515.02 432.18L515.33 421.4L515.64 433.56L515.96 421.43L516.27 432.57L516.58 422.06L516.89 433.16L517.21 420.33L517.52 433.15L517.83 421L518.14 432.26L518.46 422.85L518.77 433.74L519.08 422.22L519.39 433.65L519.71 420.96L520.02 432.16L520.33 420.64L520.64 432.01L520.96 421.71L521.27 433.72L521.58 422.48L521.89 431.67L522.21 422.08L522.52 431.31L522.83 420.98L523.14 432.71L523.46 422.72L523.77 434.26L524.08 422.99L524.39 433.89L524.71 422.79L525.02 433.33L525.33 422.32L525.64 431.54L525.96 421.71L526.27 432.1L526.58 422.91L526.89 431.54L527.21 420.95L527.52 431.76L527.83 420.48L528.14 432.16L528.46 420.39L528.77 433.47L529.08 423.08L529.39 432.54L529.71 421.42L530.02 434.51L530.33 420.81L530.64 431.39L530.96 422.66L531.27 433.43" fill="none" stroke="#0066BA" stroke-width="2.5" stroke-linejoin="round" stroke-linecap="butt" />
</g>
<g font-family="Liberation Sans, Arial, Helvetica, sans-serif" font-size="15" fill="#000" stroke="#000" stroke-width="0.25">
<text x="93.5" y="122.55" text-anchor="middle">0</text>
<text x="180.8" y="122.55" text-anchor="middle">2</text>
<text x="268.1" y="122.55" text-anchor="middle">4</text>
<text x="355.4" y="122.55" text-anchor="middle">6</text>
<text x="442.7" y="122.55" text-anchor="middle">8</text>
<text x="530" y="122.55" text-anchor="middle">10</text>
<text x="77.27" y="78.5" text-anchor="end">0.7</text>
<text x="77.27" y="35.98" text-anchor="end">1</text>
<text x="93.5" y="246.03" text-anchor="middle">0</text>
<text x="180.8" y="246.03" text-anchor="middle">2</text>
<text x="268.1" y="246.03" text-anchor="middle">4</text>
<text x="355.4" y="246.03" text-anchor="middle">6</text>
<text x="442.7" y="246.03" text-anchor="middle">8</text>
<text x="530" y="246.03" text-anchor="middle">10</text>
<text x="77.27" y="230.33" text-anchor="end">0</text>
<text x="77.27" y="176.95" text-anchor="end">157</text>
<text x="93.5" y="369.56" text-anchor="middle">0</text>
<text x="180.8" y="369.56" text-anchor="middle">2</text>
<text x="268.1" y="369.56" text-anchor="middle">4</text>
<text x="355.4" y="369.56" text-anchor="middle">6</text>
<text x="442.7" y="369.56" text-anchor="middle">8</text>
<text x="530" y="369.56" text-anchor="middle">10</text>
<text x="77.27" y="353.86" text-anchor="end">0</text>
<text x="77.27" y="302.26" text-anchor="end">0.6</text>
<text x="93.5" y="493.03" text-anchor="middle">0</text>
<text x="180.8" y="493.03" text-anchor="middle">2</text>
<text x="268.1" y="493.03" text-anchor="middle">4</text>
<text x="355.4" y="493.03" text-anchor="middle">6</text>
<text x="442.7" y="493.03" text-anchor="middle">8</text>
<text x="530" y="493.03" text-anchor="middle">10</text>
<text x="77.27" y="468.16" text-anchor="end">-5.5</text>
<text x="77.27" y="434.51" text-anchor="end">0</text>
<text x="77.27" y="400.87" text-anchor="end">5.5</text>
<text x="307.2" y="516.1" font-size="16.8" text-anchor="middle">Time (s)</text>
</g>
<g font-family="Liberation Serif, Times New Roman, serif" font-size="18" fill="#000" stroke="#000" stroke-width="0.3">
<text transform="translate(23.3 92.6) rotate(-90)" textLength="19.4" lengthAdjust="spacingAndGlyphs">(a)</text>
<text transform="translate(43 93.8) rotate(-90)" textLength="70.7" lengthAdjust="spacingAndGlyphs">Lm (p.u.)</text>
<text transform="translate(23.3 232) rotate(-90)" textLength="20.4" lengthAdjust="spacingAndGlyphs">(b)</text>
<text transform="translate(43 233.2) rotate(-90)" textLength="102.2" lengthAdjust="spacingAndGlyphs">Speed (<tspan font-style="italic">rad/s</tspan>)</text>
<text transform="translate(23.3 342.3) rotate(-90)" textLength="19.4" lengthAdjust="spacingAndGlyphs">(c)</text>
<text transform="translate(43 343.5) rotate(-90)" textLength="77.2" lengthAdjust="spacingAndGlyphs">Flux (<tspan font-style="italic">Wb</tspan>)</text>
<text transform="translate(23.3 471) rotate(-90)" textLength="20.4" lengthAdjust="spacingAndGlyphs">(d)</text>
<text transform="translate(43 472.2) rotate(-90)" textLength="87.7" lengthAdjust="spacingAndGlyphs">Current (<tspan font-style="italic">A</tspan>)</text>
</g>
<path d="M161.8 176.4L179.3 176.4M175.68 179.84Q178.7 176.4 179.3 176.4Q178.7 176.4 175.68 172.96" stroke="#000" stroke-width="1.7" fill="none" stroke-linecap="round" stroke-linejoin="round"/>
<path d="M204 193.2L186.2 193.2M189.82 189.76Q186.8 193.2 186.2 193.2Q186.8 193.2 189.82 196.64" stroke="#000" stroke-width="1.7" fill="none" stroke-linecap="round" stroke-linejoin="round"/>
<path d="M115 289.7L98.9 295.5M101.14 291.03Q99.46 295.3 98.9 295.5Q99.46 295.3 103.48 297.51" stroke="#000" stroke-width="1.7" fill="none" stroke-linecap="round" stroke-linejoin="round"/>
<path d="M116.3 308.8L99.2 308.8M102.82 305.36Q99.8 308.8 99.2 308.8Q99.8 308.8 102.82 312.24" stroke="#000" stroke-width="1.7" fill="none" stroke-linecap="round" stroke-linejoin="round"/>
<path d="M207 411.4L190.6 416.3M193.09 411.96Q191.17 416.13 190.6 416.3Q191.17 416.13 195.06 418.56" stroke="#000" stroke-width="1.7" fill="none" stroke-linecap="round" stroke-linejoin="round"/>
<g font-family="Liberation Serif, Times New Roman, serif" font-style="italic" font-weight="bold" fill="#000">
<text x="133" y="181.6" font-size="18.5">ω</text><text x="145.1" y="186.4" font-size="15">r</text><text x="146.7" y="176.7" font-size="13.5" font-style="normal" font-family="DejaVu Sans, sans-serif">*</text>
<text x="211.7" y="198.6" font-size="18.5">ω</text><text x="224.1" y="201.7" font-size="15">r</text>
<text transform="translate(121.7 288.3) scale(0.88 1.04)" font-size="20">ψ</text><text x="136.8" y="291.7" font-size="15">r</text><text x="134.2" y="281.7" font-size="13.5" font-style="normal" font-family="DejaVu Sans, sans-serif">*</text>
<text transform="translate(124 313.6) scale(0.88 1.04)" font-size="20">ψ</text><text x="137.5" y="317" font-size="15">r</text>
<text x="115.3" y="408.5" font-size="19.5" font-weight="normal" stroke="#000" stroke-width="0.35">i</text><text x="121.8" y="411.5" font-size="14.5" textLength="28.6" lengthAdjust="spacingAndGlyphs">qs,H</text>
<text x="115.3" y="457.6" font-size="19.5" font-weight="normal" stroke="#000" stroke-width="0.35">i</text><text x="121.9" y="460.1" font-size="14.5" textLength="27.3" lengthAdjust="spacingAndGlyphs">qs,L</text>
<text x="215" y="412.5" font-size="19.5" font-weight="normal" stroke="#000" stroke-width="0.35">i</text><text x="222.8" y="413.5" font-size="13.3">q</text><text x="230.5" y="411.4" font-size="13.3">s</text>
</g>
</svg></body></html>
